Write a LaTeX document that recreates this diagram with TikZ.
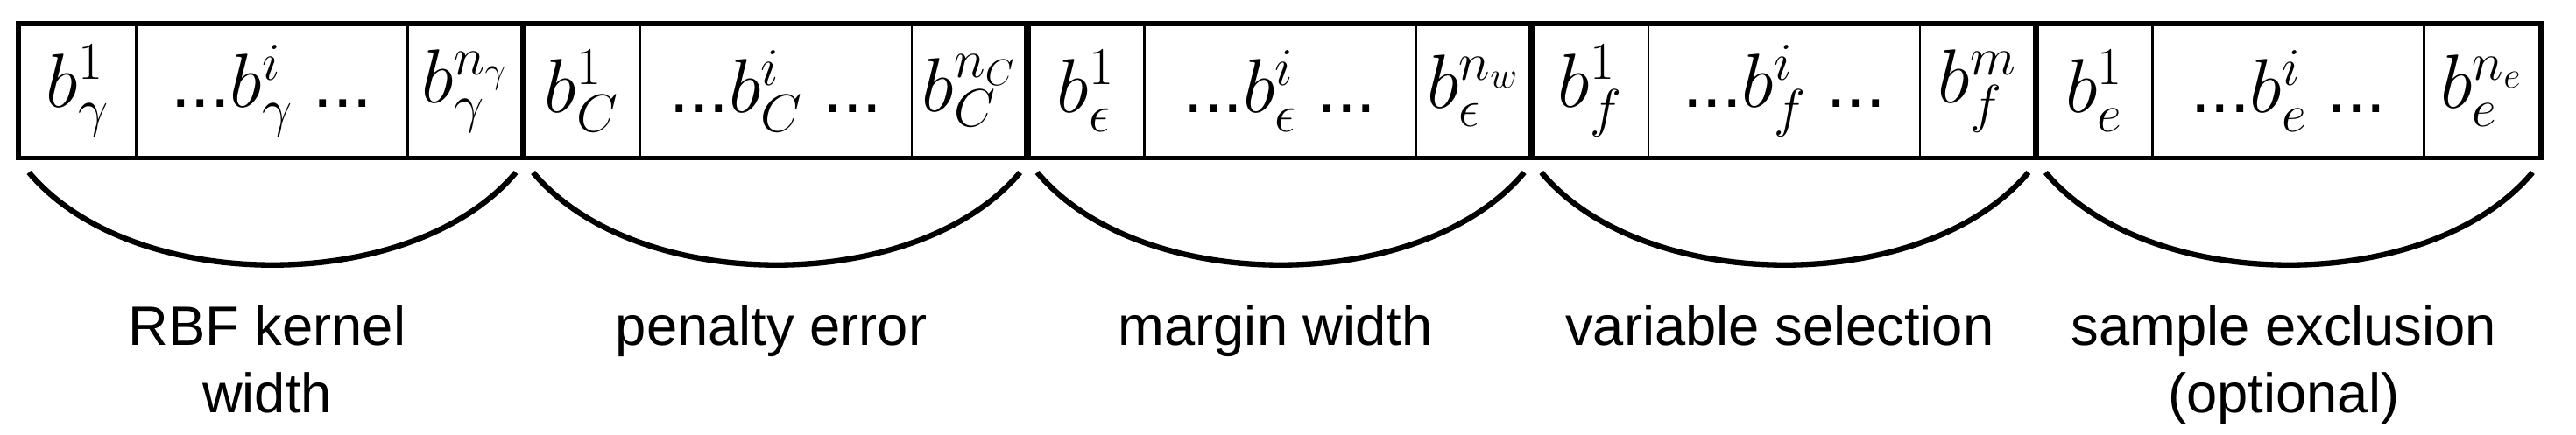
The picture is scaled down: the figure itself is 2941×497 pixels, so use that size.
\documentclass[tikz,border=0pt]{standalone}
\usepackage{fontspec}
\setmainfont{Liberation Sans}
\begin{document}
\begin{tikzpicture}[x=0.01cm,y=-0.01cm,
  cell/.style={draw,line width=0.7pt,minimum height=1.51cm,inner sep=0pt,anchor=north west,font=\fontsize{23}{26}\selectfont},
  lab/.style={font=\fontsize{18}{22}\selectfont,align=center,anchor=north},
  brace/.style={line width=1.8pt}]
\useasboundingbox (0,0) rectangle (2941,497);
\foreach \k/\s/\t/\lab [count=\n from 0] in {
  \gamma/{n_\gamma}/a/{RBF kernel\\width},
  C/{n_C}/b/{penalty error},
  \epsilon/{n_w}/c/{margin width},
  f/m/d/{variable selection},
  e/{n_e}/e/{sample exclusion\\(optional)}}{
  \pgfmathsetmacro{\x}{21+\n*575.6}
  \node[cell,minimum width=1.33cm] (\t1) at (\x,27) {$b_{\k}^{1}$};
  \node[cell,minimum width=3.10cm] (\t2) at (\x+133,27) {...$b_{\k}^{i}$ ...};
  \node[cell,minimum width=1.32cm] (\t3) at (\x+443,27) {$b_{\k}^{\s}$};
  \coordinate (\t L) at (\x+12,197);
  \coordinate (\t R) at (\x+568,197);
  \draw[brace] (\t L) .. controls (\x+130,338) and (\x+450,338) .. (\t R);
  \node[lab] (\t T) at (\x+284,336) {\lab};
  \draw[line width=1.6pt] (\t1.north west) rectangle (\t3.south east);
}
\end{tikzpicture}
\end{document}
